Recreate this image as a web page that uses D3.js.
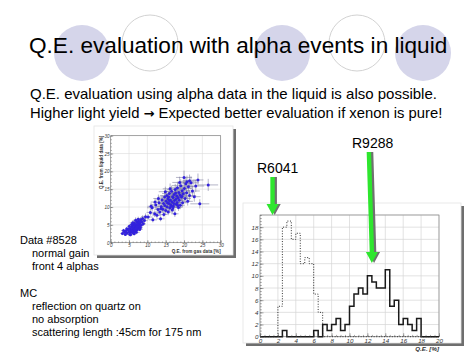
<!DOCTYPE html>
<html><head><meta charset="utf-8">
<script src="https://cdn.jsdelivr.net/npm/d3@7"></script>
<style>
html,body{margin:0;padding:0;background:#fff;}
svg{display:block;font-family:"Liberation Sans",Arial,sans-serif;}
</style></head><body>
<svg id="c" width="474" height="355"></svg>
<script>
// ---------- text ----------
const titleText = "Q.E. evaluation with alpha events in liquid";
const bodyLine1 = "Q.E. evaluation using alpha data in the liquid is also possible.";
const bodyLine2a = "Higher light yield ";
const bodyArrow = "\u2192";
const bodyLine2b = " Expected better evaluation if xenon is pure!";
const noteLines = [
  {t:"Data #8528", indent:false}, {t:"normal gain", indent:true}, {t:"front 4 alphas", indent:true},
  {t:"", indent:false},
  {t:"MC", indent:false}, {t:"reflection on quartz on", indent:true}, {t:"no absorption", indent:true},
  {t:"scattering length :45cm for 175 nm", indent:true}];

// ---------- histogram data (bins of 0.5 % in Q.E.) ----------
const binEdges = [0,0.5,1,1.5,2,2.5,3,3.5,4,4.5,5,5.5,6,6.5,7,7.5,8,8.5,9,9.5,10,
  10.5,11,11.5,12,12.5,13,13.5,14,14.5,15,15.5,16,16.5,17,17.5,18,18.5,19,19.5,20];
const liquidCounts = [0,0,0,0,0,1,0,0,0,0,0,0,1,0,2,1,2,3,1,2,
  5,7,8,7,10,9,8,8,11,5,6,2,3,2,1,3,0,0,0,0];
const mcCounts = [0,0,0,0,5,18,19,16,17,12,13,12,7,4,0,0,0,0,0,0,
  0,0,0,0,0,0,0,0,0,0,0,0,0,0,0,0,0,0,0,0];
const histXTicks = [0,2,4,6,8,10,12,14,16,18,20];
const histYTicks = [0,2,4,6,8,10,12,14,16,18];
const histXMinor = [0,0.5,1,1.5,2,2.5,3,3.5,4,4.5,5,5.5,6,6.5,7,7.5,8,8.5,9,9.5,10,10.5,11,11.5,12,12.5,13,13.5,14,14.5,15,15.5,16,16.5,17,17.5,18,18.5,19,19.5,20];
const histYMinor = [0,0.5,1,1.5,2,2.5,3,3.5,4,4.5,5,5.5,6,6.5,7,7.5,8,8.5,9,9.5,10,10.5,11,11.5,12,12.5,13,13.5,14,14.5,15,15.5,16,16.5,17,17.5,18,18.5,19,19.5,20];

// annotations: tube type and Q.E. (histogram coordinates)
const arrowLabels = ["R6041","R9288"];
const arrowQE = [1.4, 12.5];

// ---------- scatter data ----------
const gasQE = [3.2,3.8,4.1,4.5,4.8,5.0,5.2,5.3,5.5,5.6,5.8,5.9,6.0,6.1,6.2,6.3,6.4,6.5,6.6,6.7,
  6.8,6.9,7.0,7.1,7.2,7.3,7.4,7.5,7.6,7.7,7.8,7.9,8.0,8.2,8.3,8.5,8.7,8.9,9.2,5.4,
  4.4,5.1,6.0,6.4,7.0,5.7,6.8,7.5,4.0,3.5,6.2,5.0,6.6,7.2,5.8,6.3,7.8,8.1,9.5,6.9,
  10.2,10.8,11.3,11.5,12.0,12.3,12.6,12.9,13.2,13.4,13.6,13.8,14.0,14.2,14.4,14.5,14.7,14.8,15.0,15.1,
  15.3,15.4,15.6,15.7,15.9,16.0,16.1,16.3,16.4,16.6,16.7,16.8,17.0,17.1,17.3,17.4,17.5,17.6,17.8,17.9,
  18.0,18.1,18.2,18.4,18.5,18.6,18.7,18.9,19.0,19.1,19.3,19.5,19.6,19.8,20.0,20.1,20.3,20.5,20.7,21.0,
  21.2,21.5,21.9,22.3,22.8,23.2,23.8,24.3,26.6,13.0,14.9,16.2,15.5,16.9,17.2,18.3,16.5,15.8,17.7,
  19.4,12.1,11.0,20.8,13.7,16.0,17.0,18.8,21.5];
const liquidQE = [2.6,2.9,3.3,2.7,3.6,3.1,2.4,4.0,3.5,2.9,4.4,3.8,3.2,4.9,2.7,4.2,3.6,5.3,4.6,3.9,
  3.3,5.0,4.3,5.8,3.6,4.8,5.4,4.1,6.0,5.1,4.6,3.7,5.6,6.4,4.9,5.9,6.8,5.3,6.2,2.2,
  3.9,4.6,5.6,2.5,2.9,5.1,6.3,6.6,2.3,3.4,3.0,3.9,3.5,4.4,3.3,5.5,5.8,4.2,7.3,4.0,
  7.2,8.5,9.8,6.4,8.1,10.6,7.7,9.3,11.2,8.6,6.7,10.1,12.0,9.4,11.0,7.9,12.8,10.4,9.0,11.6,
  13.2,10.0,12.3,8.6,11.0,13.8,9.7,12.0,10.6,14.4,11.4,9.2,12.7,10.3,13.5,11.8,8.1,14.9,12.2,10.8,
  13.1,11.3,15.4,12.6,9.9,14.1,11.9,13.4,10.5,16.0,12.8,14.6,11.2,13.7,18.3,15.2,12.4,16.5,14.0,11.6,
  15.7,13.2,16.8,14.5,12.9,15.9,17.6,10.9,16.2,12.4,14.3,15.1,11.1,12.9,11.0,10.4,10.2,12.8,13.9,
  13.0,11.4,10.2,17.1,9.6,11.8,9.8,16.9,17.4];
const gasErr = [0.6,0.7,0.5,0.8,0.6,0.5,0.7,0.6,0.9,0.5,0.6,0.8,0.5,0.7,0.6,0.9,0.5,0.6,0.8,0.7,
  0.5,0.6,0.9,0.7,0.5,0.8,0.6,0.7,1.0,0.6,0.5,0.8,0.7,0.9,0.6,0.8,1.1,0.7,0.9,0.6,
  0.5,0.7,0.8,0.6,0.9,0.5,0.7,0.8,0.6,0.7,0.5,0.6,0.8,0.7,0.5,0.6,0.9,0.7,1.2,0.6,
  1.2,1.0,1.4,1.1,1.3,1.5,1.2,1.0,1.6,1.3,1.1,1.4,1.7,1.2,1.5,1.0,1.8,1.3,1.1,1.6,
  1.9,1.2,1.5,1.0,1.4,2.0,1.1,1.6,1.3,2.1,1.5,1.0,1.7,1.2,1.9,1.4,1.0,2.2,1.6,1.3,
  1.8,1.4,2.3,1.6,1.1,2.0,1.5,1.8,1.2,2.4,1.7,2.1,1.3,1.9,2.2,2.0,1.6,2.3,1.9,1.4,
  2.1,1.8,2.2,2.0,1.7,2.3,1.5,2.6,2.7,1.4,1.8,2.0,1.3,1.6,1.5,1.2,1.4,1.7,1.9,
  1.6,1.2,1.0,2.1,1.3,1.5,1.2,2.0,1.9];
const liquidErr = [0.5,0.4,0.6,0.5,0.4,0.6,0.5,0.7,0.4,0.5,0.6,0.5,0.4,0.7,0.5,0.6,0.4,0.8,0.5,0.6,
  0.4,0.7,0.5,0.8,0.4,0.6,0.7,0.5,0.9,0.6,0.5,0.4,0.7,0.8,0.6,0.7,0.9,0.6,0.8,0.4,
  0.5,0.6,0.7,0.4,0.5,0.6,0.8,0.7,0.4,0.5,0.4,0.5,0.6,0.5,0.4,0.7,0.6,0.5,0.9,0.5,
  0.8,0.9,1.0,0.7,0.9,1.1,0.8,1.0,1.2,0.9,0.7,1.1,1.3,1.0,1.2,0.8,1.4,1.1,1.0,1.2,
  1.4,1.0,1.3,0.9,1.2,1.5,1.0,1.3,1.1,1.6,1.2,1.0,1.4,1.1,1.5,1.2,0.9,1.6,1.3,1.1,
  1.4,1.2,1.7,1.3,1.0,1.5,1.2,1.4,1.1,1.8,1.3,1.6,1.2,1.5,1.9,1.6,1.3,1.7,1.5,1.2,
  1.6,1.4,1.8,1.5,1.4,1.7,1.8,1.3,1.7,1.1,1.4,1.5,1.1,1.3,1.2,1.0,1.2,1.4,1.5,
  1.3,1.1,1.0,1.7,1.0,1.2,1.0,1.6,1.7];
const scatterTicks = [0,5,10,15,20,25,30];
const scatterMinor = [0,1,2,3,4,5,6,7,8,9,10,11,12,13,14,15,16,17,18,19,20,21,22,23,24,25,26,27,28,29,30];

// ---------- drawing ----------
const svg = d3.select("#c");
const FONT = '"Liberation Sans",Arial,sans-serif';

// decorative circles behind the title
const deco = [{cx:82,cy:53,fill:true},{cx:150,cy:43,fill:false},{cx:282,cy:53,fill:true},
  {cx:357,cy:43,fill:false},{cx:423,cy:53,fill:true}];
svg.selectAll("circle.deco").data(deco).join("circle")
  .attr("cx",d=>d.cx).attr("cy",d=>d.cy).attr("r",28)
  .attr("fill",d=>d.fill?"#d5d5ea":"none")
  .attr("stroke",d=>d.fill?"none":"#d2d2d2").attr("stroke-width",1);

svg.append("text").attr("x",29).attr("y",52.5).attr("font-size",22.6)
  .attr("fill","#000").text(titleText);

svg.append("text").attr("x",30).attr("y",99).attr("font-size",15).attr("fill","#000").text(bodyLine1);
const l2 = svg.append("text").attr("x",30).attr("y",117.5).attr("font-size",14.8).attr("fill","#000");
l2.append("tspan").text(bodyLine2a);
l2.append("tspan").attr("font-family","DejaVu Sans").attr("font-weight","bold").attr("font-size",13).text(bodyArrow);
l2.append("tspan").text(bodyLine2b);

svg.selectAll("text.note").data(noteLines).join("text")
  .attr("x",d=>d.indent?32:20).attr("y",(d,i)=>244+i*13.2).attr("font-size",11).attr("fill","#000").text(d=>d.t);

// panel helper
function panel(x,y,w,h){
  svg.append("rect").attr("x",x+3).attr("y",y+3).attr("width",w).attr("height",h).attr("fill","#6e6e6e");
  svg.append("rect").attr("x",x).attr("y",y).attr("width",w).attr("height",h).attr("fill","#fff")
    .attr("stroke","#e4e4e4").attr("stroke-width",0.8);
}

// ---------- scatter ----------
panel(94,126,139,129);
const sx = d3.scaleLinear().domain([0,30]).range([110.7,220.7]);
const sy = d3.scaleLinear().domain([0,30]).range([242.7,135.7]);
const sg = svg.append("g");
sg.selectAll("line.gx").data(scatterTicks).join("line")
  .attr("x1",d=>sx(d)).attr("x2",d=>sx(d)).attr("y1",sy(0)).attr("y2",sy(30))
  .attr("stroke","#dcdcdc").attr("stroke-width",0.6);
sg.selectAll("line.gy").data(scatterTicks).join("line")
  .attr("y1",d=>sy(d)).attr("y2",d=>sy(d)).attr("x1",sx(0)).attr("x2",sx(30))
  .attr("stroke","#dcdcdc").attr("stroke-width",0.6);
const pts = gasQE.map((g,i)=>({x:g,y:liquidQE[i],ex:gasErr[i],ey:liquidErr[i]}));
sg.selectAll("line.ex").data(pts).join("line")
  .attr("x1",d=>sx(d.x-d.ex)).attr("x2",d=>sx(d.x+d.ex)).attr("y1",d=>sy(d.y)).attr("y2",d=>sy(d.y))
  .attr("stroke","#6a6a90").attr("stroke-width",0.5);
sg.selectAll("line.ey").data(pts).join("line")
  .attr("x1",d=>sx(d.x)).attr("x2",d=>sx(d.x)).attr("y1",d=>sy(d.y-d.ey)).attr("y2",d=>sy(d.y+d.ey))
  .attr("stroke","#6a6a90").attr("stroke-width",0.5);
sg.selectAll("circle.pt").data(pts).join("circle")
  .attr("cx",d=>sx(d.x)).attr("cy",d=>sy(d.y)).attr("r",1.5).attr("fill","#3322dd");
sg.append("rect").attr("x",sx(0)).attr("y",sy(30)).attr("width",sx(30)-sx(0)).attr("height",sy(0)-sy(30))
  .attr("fill","none").attr("stroke","#777").attr("stroke-width",0.6);
function styleAxis(g,fs){
  g.select(".domain").remove();
  g.selectAll(".tick line").attr("stroke","#555").attr("stroke-width",0.5);
  g.selectAll(".tick text").attr("font-size",fs).attr("font-style","italic").attr("fill","#333").attr("font-family",FONT);
}
const sxa = sg.append("g").attr("transform",`translate(0,${sy(0)})`)
  .call(d3.axisBottom(sx).tickValues(scatterTicks).tickSize(-2.5).tickPadding(1.5).tickFormat(d3.format("d")));
styleAxis(sxa,4.6);
const sxm = sg.append("g").attr("transform",`translate(0,${sy(0)})`)
  .call(d3.axisBottom(sx).tickValues(scatterMinor).tickSize(-1.2).tickFormat(""));
styleAxis(sxm,4);
const sya = sg.append("g").attr("transform",`translate(${sx(0)},0)`)
  .call(d3.axisLeft(sy).tickValues(scatterTicks).tickSize(-2.5).tickPadding(1.2).tickFormat(d3.format("d")));
styleAxis(sya,4.6);
const sym = sg.append("g").attr("transform",`translate(${sx(0)},0)`)
  .call(d3.axisLeft(sy).tickValues(scatterMinor).tickSize(-1.2).tickFormat(""));
styleAxis(sym,4);
sg.append("text").attr("x",sx(30)).attr("y",sy(0)+10).attr("text-anchor","end")
  .attr("font-size",4.6).attr("font-weight","bold").attr("fill","#333").text("Q.E. from gas data [%]");
sg.append("text").attr("transform",`translate(${sx(0)-7.5},${sy(30)}) rotate(-90)`).attr("text-anchor","end")
  .attr("font-size",4.6).attr("font-weight","bold").attr("fill","#333").text("Q.E. from liquid data [%]");

// ---------- histogram ----------
panel(243,203,218,140);
const hx = d3.scaleLinear().domain([0,20]).range([260,439]);
const hy = d3.scaleLinear().domain([0,20]).range([336.7,215]);
const hg = svg.append("g");
hg.selectAll("line.gx").data(histXTicks).join("line")
  .attr("x1",d=>hx(d)).attr("x2",d=>hx(d)).attr("y1",hy(0)).attr("y2",hy(20))
  .attr("stroke","#d6d6d6").attr("stroke-width",0.7);
hg.selectAll("line.gy").data(histYTicks.concat([20])).join("line")
  .attr("y1",d=>hy(d)).attr("y2",d=>hy(d)).attr("x1",hx(0)).attr("x2",hx(20))
  .attr("stroke","#d6d6d6").attr("stroke-width",0.7);
hg.append("rect").attr("x",hx(0)).attr("y",hy(20)).attr("width",hx(20)-hx(0)).attr("height",hy(0)-hy(20))
  .attr("fill","none").attr("stroke","#888").attr("stroke-width",0.7);
const stepLine = d3.line().x(d=>hx(d[0])).y(d=>hy(d[1])).curve(d3.curveStepAfter);
function histPts(counts){
  const p = counts.map((c,i)=>[binEdges[i],c]);
  p.push([binEdges[binEdges.length-1], counts[counts.length-1]]);
  return p;
}
hg.append("path").attr("d",stepLine(histPts(mcCounts))).attr("fill","none")
  .attr("stroke","#333").attr("stroke-width",1).attr("stroke-dasharray","1,1.6");
hg.append("path").attr("d",stepLine(histPts(liquidCounts))).attr("fill","none")
  .attr("stroke","#1a1a1a").attr("stroke-width",1.5);
const hxa = hg.append("g").attr("transform",`translate(0,${hy(0)})`)
  .call(d3.axisBottom(hx).tickValues(histXTicks).tickSize(-3.5).tickPadding(1.5).tickFormat(d3.format("d")));
styleAxis(hxa,6.2);
const hxm = hg.append("g").attr("transform",`translate(0,${hy(0)})`)
  .call(d3.axisBottom(hx).tickValues(histXMinor).tickSize(-1.8).tickFormat(""));
styleAxis(hxm,4);
const hya = hg.append("g").attr("transform",`translate(${hx(0)},0)`)
  .call(d3.axisLeft(hy).tickValues(histYTicks).tickSize(-3.5).tickPadding(1.5).tickFormat(d3.format("d")));
styleAxis(hya,6.2);
const hym = hg.append("g").attr("transform",`translate(${hx(0)},0)`)
  .call(d3.axisLeft(hy).tickValues(histYMinor).tickSize(-1.8).tickFormat(""));
styleAxis(hym,4);
hg.append("text").attr("x",hx(20)).attr("y",hy(0)+14).attr("text-anchor","end")
  .attr("font-size",6.2).attr("font-weight","bold").attr("font-style","italic").attr("fill","#333").text("Q.E. [%]");

// ---------- arrows ----------
const arrowGeom = [{topY:177, tipY:hy(20), labelY:173, labelX:257},
                   {topY:152, tipY:hy(12.1), labelY:148, labelX:352}];
arrowGeom.forEach((g,i)=>{
  const tx = hx(arrowQE[i]);
  const topX = tx - (i===1?3:0);
  const hw = 2.2, hh = 6, hl = 11;
  const poly = (dx)=>[[topX-hw+dx,g.topY],[topX+hw+dx,g.topY],[tx+hw+dx,g.tipY-hl],[tx+hh+dx,g.tipY-hl],
    [tx+dx,g.tipY],[tx-hh+dx,g.tipY-hl],[tx-hw+dx,g.tipY-hl]];
  svg.append("polygon").attr("points",poly(2.2).map(p=>p.join(",")).join(" ")).attr("fill","#707070");
  svg.append("polygon").attr("points",poly(0).map(p=>p.join(",")).join(" ")).attr("fill","#2ee62e");
  svg.append("text").attr("x",g.labelX).attr("y",g.labelY).attr("font-size",14).attr("fill","#000").text(arrowLabels[i]);
});
</script>
</body></html>
